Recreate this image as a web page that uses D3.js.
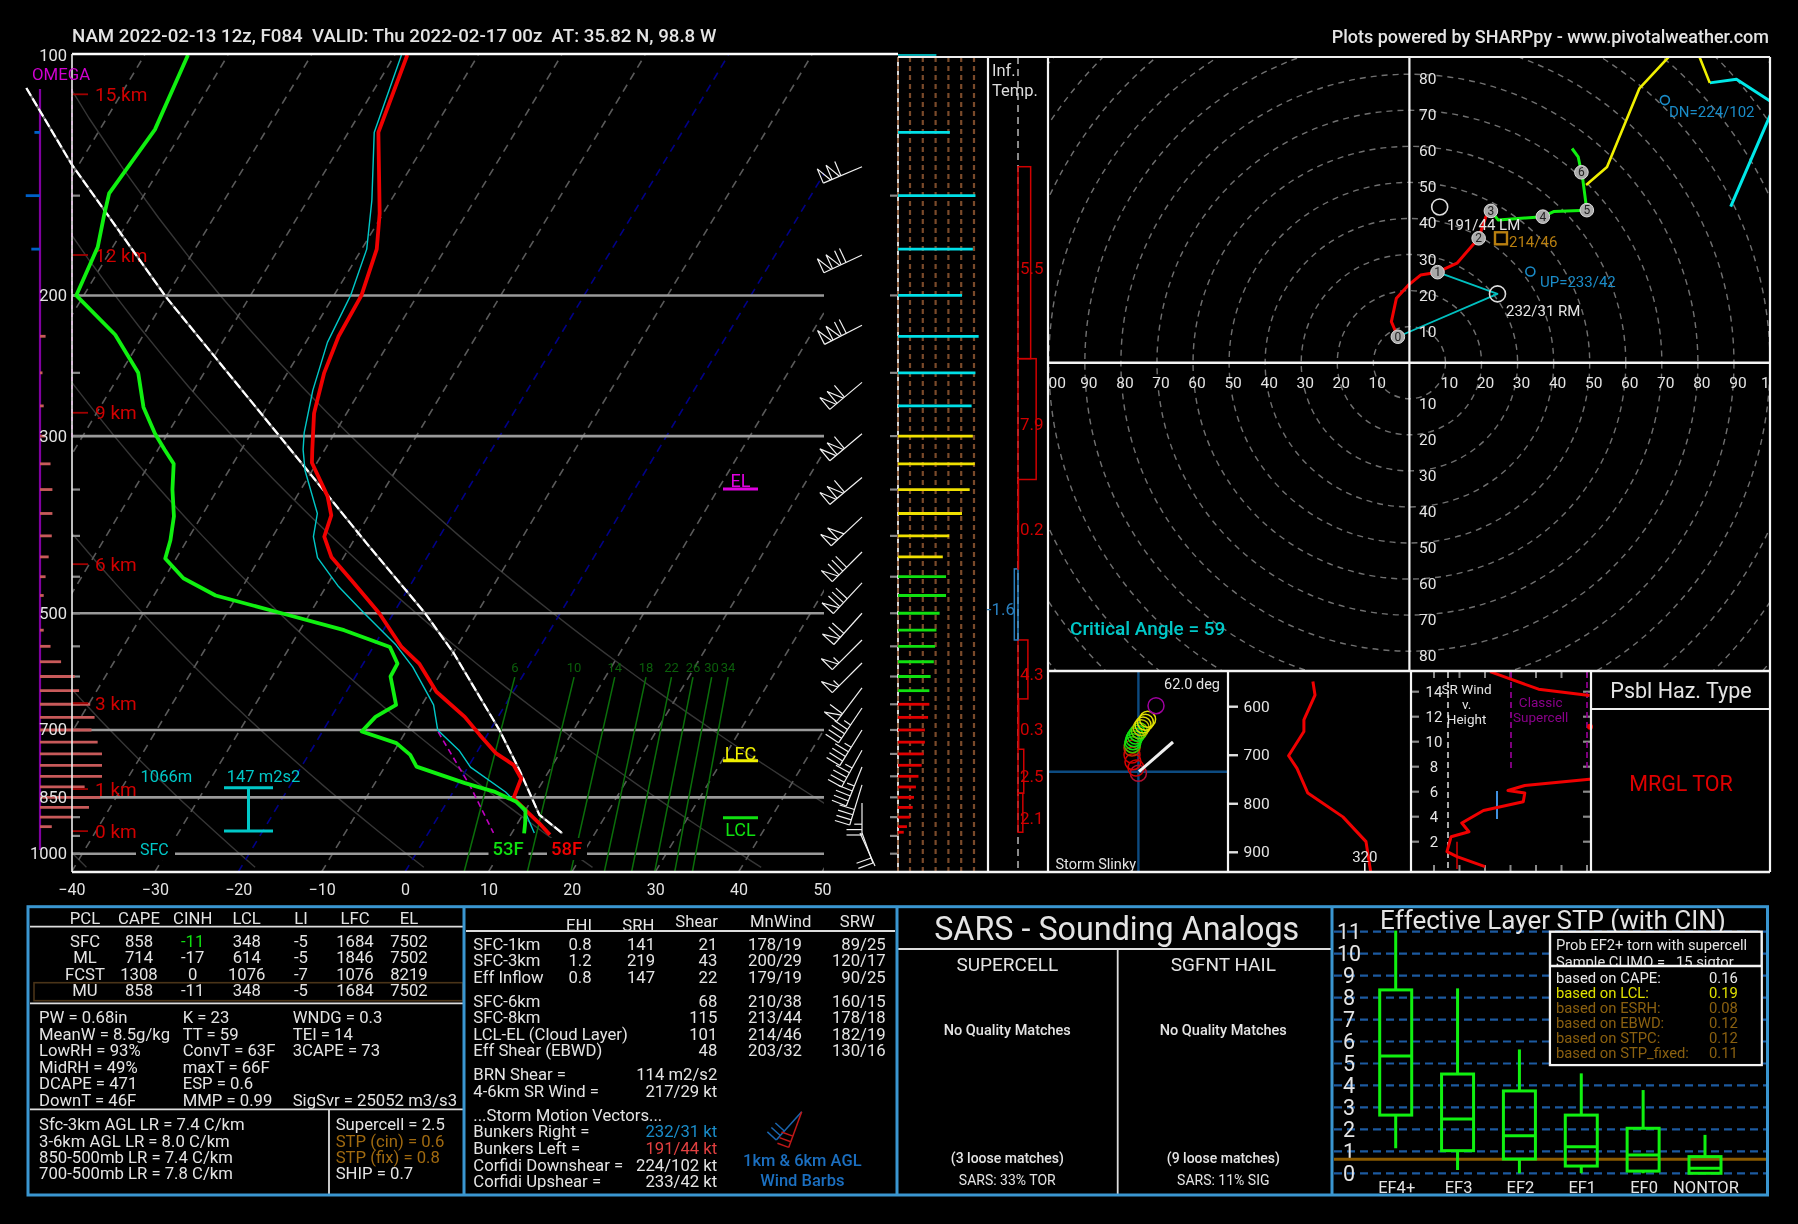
<!DOCTYPE html>
<html><head><meta charset="utf-8">
<script src="https://cdn.jsdelivr.net/npm/d3@7"></script>
<style>html,body{margin:0;background:#000;overflow:hidden}svg{display:block;filter:blur(0.45px)}text{font-family:Roboto,sans-serif}</style>
</head><body><svg id="c" width="1798" height="1224"></svg>
<script>
// ---------- Skew-T data (pressure hPa, temperature C) ----------
const tempP=[100,125,158,175,200,225,250,281,312,324,357,377,401,425,457,500,551,578,627,674,710,749,774,805,852,882,916,947];
const tempT=[-58.5,-56.4,-50.4,-48.2,-46.7,-46.5,-45.6,-43.9,-41.5,-40.6,-36.3,-34.5,-33.8,-31.5,-27.1,-21.7,-16.6,-13.3,-9.2,-4.0,-0.9,2.4,5.3,7.2,7.7,10,12.6,14.7];
const dewP=[100,124,149,159,174,200,224,250,276,298,312,325,350,378,405,427,452,475,500,525,551,578,600,651,674,703,727,752,778,816,836,861,882,916,943];
const dewT=[-84.8,-83.4,-84.3,-83.3,-81.8,-80.9,-73.4,-67.9,-64.8,-61.5,-59.2,-57.1,-55.4,-53.3,-52,-51.3,-47.7,-42.6,-33.4,-24.7,-18,-15.9,-15.8,-13.1,-14.7,-15.3,-10.3,-7.8,-6.2,0.8,4.9,8.3,10,10.9,11.5];
const wetP=[100,125,152,175,200,229,263,297,312,331,375,401,426,463,500,548,584,651,700,742,779,837,864,889,942];
const wetT=[-59.2,-56.9,-52.3,-49.4,-48,-47.4,-45.7,-43.7,-42.6,-40.9,-36.3,-35.1,-33.1,-28.5,-23.5,-17.4,-13.8,-8.6,-6.3,-2.3,0.3,6.3,8.4,10.2,12.7];
const parcelP=[110,137,201,312,409,500,561,700,786,894,943];
const parcelT=[-101.8,-90.9,-70,-44.1,-28.2,-16.2,-9.9,1.1,6.4,12,16.1];
const downP=[704,824,942];
const downT=[-6.1,1.7,7.8];
const tempTicks=[-40,-30,-20,-10,0,10,20,30,40,50];
const pressLabels=[100,200,300,500,700,850,1000];
const thickPress=[200,300,500,700,850,1000];
const thetaLines=[212,232,252,272,292,312,332];
const mixRatios=[6,10,14,18,22,26,30,34];
const heightKm=[15,12,9,6,3,1,0];
const heightPress=[112,178,280.5,434,648,830,937];
// omega
const omegaP=[125,150,175,225,250,275,300,325,350,375,400,425,450,475,525,550,575,600,625,650,675,700,725,750,775,800,825,850,875,900,925];
const omegaV=[-0.9,-2.3,-1.4,0.9,0.4,0.6,0.8,1.7,2,2,1.9,1.4,0.9,0.6,0.6,1.7,3.4,5.6,6.3,8.1,8.8,8.3,9.3,10,10,10,7.2,9.7,7.9,5.3,1.9];
// wind barbs
const barbP=[138,178,218,257,298,338,379,419,458,500,540,577,620,657,700,742,779,820,864,942];
const barbDir=[247,245,243,230,230,230,227,225,223,222,225,225,217,214,212,209,202,197,180,160];
const barbSpd=[110,120,120,110,110,110,100,80,80,70,55,55,60,45,45,45,45,40,25,20];
// wind-speed bars
const speedP=[100,125,150,175,200,225,250,275,300,325,350,375,400,425,450,475,500,525,550,575,600,625,650,675,700,725,750,775,800,825,850,875,900,925,940];
const speedKt=[60,81,121,117,100,126,121,115,117,120,112,100,80,70,75,75,65,60,58,56,51,49,49,47,42,42,40,37,32,28,25,23,19,14,9];
const speedGrid=[20,40,60,80,100,120];
// inferred temp
const infBounds=[940,840,740,640,540,440,340,240,138];
const infVals=[2.1,2.5,0.3,4.3,-1.6,0.2,7.9,5.5];
// hodograph
const hodoRings=[10,20,30,40,50,60,70,80,90,100,110,120,130];
const hodoTicks=[10,20,30,40,50,60,70,80,90,100];
const hodoRedU=[-3.2,-5,-3.6,-0.3,3.1,7.8,13.2,19.2,21.2,22.6];
const hodoRedV=[7.2,11.4,17.9,21.5,24.3,25.1,27.6,34.5,40.5,42.1];
const hodoGreenU=[22.6,24.6,37,40,49.2,48.1,47.7,46.8,45.1];
const hodoGreenV=[42.1,39.6,40.5,41.9,42.3,50.7,52.8,57.1,59.4];
const hodoYellowU=[49,54.8,63.8,72,76,80.4,83.3];
const hodoYellowV=[49.3,54.3,76.1,84.9,92,84.9,77.6];
const hodoCyanU=[83.3,90.7,100.3,108,100.3,89.1];
const hodoCyanV=[77.6,78.6,72.4,70,69.2,43.3];
const hodoMarkU=[-3.2,7.8,19.2,22.6,37,49.2,47.7];
const hodoMarkV=[7.2,25.1,34.5,42.1,40.5,42.3,52.8];
const rmDir=232,rmSpd=31,lmDir=191,lmSpd=44,dnDir=224,dnSpd=102,upDir=233,upSpd=42;
const meanU=25.4,meanV=34.5;
// slinky
const slinkyX=[0,-2.4,-5.4,-6.4,-6.4,-6,-5.4,-4.5,-2.9,-1,1,2.8,4.6,7,9.2,17.6];
const slinkyY=[-1.6,3.7,10,16.7,23.7,27,30,33,35.7,38.5,41,44,46.7,49.5,52.4,66];
const slinkyC=["#b01030","#d00000","#e00000","#d00000","#c03000","#40c000","#10e010","#10e010","#10e010","#10e010","#60d000","#c0c000","#e0e000","#e0e000","#e0e000","#a000a0"];
// theta-e
const thetaP=[548,576,627,651,701,727,778,827,878,942];
const thetaV=[302.7,303.4,299.7,299.7,294.6,297.4,301,312.7,320.4,322];
const thetaTicks=[600,700,800,900];
// SR wind
const srSpdA=[30,19,15.1,16.7,23.7,20.9,29.4,45,45.6,39,45.6,71,90];
const srHgtA=[0,0.8,1.2,2.4,2.8,3.5,4.5,5.2,5.9,6.1,6.5,7,7.2];
const srSpdB=[71,51,32];
const srHgtB=[13.7,14.2,15.6];
const srTicks=[2,4,6,8,10,12,14];
const srGrid=[10,20,30,40,50,60,70];
// STP box plot
const stpCats=["EF4+","EF3","EF2","EF1","EF0","NONTOR"];
const stpMax=[11.05,8.42,5.64,4.55,3.79,1.75];
const stpQ3=[8.35,4.52,3.75,2.65,2.05,0.76];
const stpMed=[5.34,2.47,1.71,1.21,0.83,0.23];
const stpQ1=[2.65,1.03,0.65,0.33,0.1,0];
const stpMin=[1.14,0.15,0,0,0,0];
const stpTicks=[0,1,2,3,4,5,6,7,8,9,10,11];
const stpValue=0.64;
// tables
const parcelHead=["PCL","CAPE","CINH","LCL","LI","LFC","EL"];
const parcelRows=[["SFC","858","-11","348","-5","1684","7502"],["ML","714","-17","614","-5","1846","7502"],["FCST","1308","0","1076","-7","1076","8219"],["MU","858","-11","348","-5","1684","7502"]];
const idxCol1=["PW = 0.68in","MeanW = 8.5g/kg","LowRH = 93%","MidRH = 49%","DCAPE = 471","DownT = 46F"];
const idxCol2=["K = 23","TT = 59","ConvT = 63F","maxT = 66F","ESP = 0.6","MMP = 0.99"];
const idxCol3=["WNDG = 0.3","TEI = 14","3CAPE = 73","","","SigSvr = 25052 m3/s3"];
const lapse=["Sfc-3km AGL LR = 7.4 C/km","3-6km AGL LR = 8.0 C/km","850-500mb LR = 7.4 C/km","700-500mb LR = 7.8 C/km"];
const sevText=["Supercell = 2.5","STP (cin) = 0.6","STP (fix) = 0.8","SHIP = 0.7"];
const kinRows=[["SFC-1km","0.8","141","21","178/19","89/25"],["SFC-3km","1.2","219","43","200/29","120/17"],["Eff Inflow","0.8","147","22","179/19","90/25"],["SFC-6km","","","68","210/38","160/15"],["SFC-8km","","","115","213/44","178/18"],["LCL-EL (Cloud Layer)","","","101","214/46","182/19"],["Eff Shear (EBWD)","","","48","203/32","130/16"]];
const motionRows=[["BRN Shear =","114 m2/s2"],["4-6km SR Wind =","217/29 kt"],["...Storm Motion Vectors...",""],["Bunkers Right =","232/31 kt"],["Bunkers Left =","191/44 kt"],["Corfidi Downshear =","224/102 kt"],["Corfidi Upshear =","233/42 kt"]];
const probRows=[["based on CAPE:","0.16"],["based on LCL:","0.19"],["based on ESRH:","0.08"],["based on EBWD:","0.12"],["based on STPC:","0.12"],["based on STP_fixed:","0.11"]];
const probColors=["#e8e8e8","#e0e000","#8a6010","#8a6010","#8a6010","#8a6010"];

const svg=d3.select("#c");
svg.append("rect").attr("width",1798).attr("height",1224).attr("fill","#000");
const defs=svg.append("defs");
function clip(id,x,y,w,h){defs.append("clipPath").attr("id",id).append("rect").attr("x",x).attr("y",y).attr("width",w).attr("height",h);}
clip("skew",72,54,752,818);clip("hodo",1049,57,721,614);clip("sr",1412,672,179,199);clip("thetaC",1229,672,181,199);
const W="#e4e4e4";
function txt(x,y,s,o={}){return svg.append("text").attr("x",x).attr("y",y).attr("dominant-baseline","central").attr("text-anchor",o.a||"start").attr("fill",o.f||W).attr("font-size",o.s||16).attr("font-weight",o.w||400).text(s);}
function ln(x1,y1,x2,y2,c,w,dash,cp){const l=svg.append("line").attr("x1",x1).attr("y1",y1).attr("x2",x2).attr("y2",y2).attr("stroke",c).attr("stroke-width",w);if(dash)l.attr("stroke-dasharray",dash);if(cp)l.attr("clip-path",`url(#${cp})`);return l;}

// ---------- Skew-T ----------
const yP=d3.scaleLog().domain([100,1000]).range([55,853.7]);
const xT=d3.scaleLinear().domain([-40,50]).range([71.4,822]);
const BOT=872,SK=0.6;
const sx=(t,p)=>xT(t)+SK*(BOT-yP(p));
const line=d3.line().x(d=>d[0]).y(d=>d[1]);
const pth=(pts,c,w,o={})=>{const e=svg.append("path").attr("d",line(pts)).attr("fill","none").attr("stroke",c).attr("stroke-width",w).attr("stroke-linejoin","round");if(o.dash)e.attr("stroke-dasharray",o.dash);if(o.clip)e.attr("clip-path",`url(#${o.clip})`);return e;};
const pBot=1054,pTop=100;
// dry adiabats
const presGrid=d3.range(100,1056,20);
thetaLines.forEach(th=>pth(presGrid.map(p=>[sx(th*Math.pow(p/1000,0.286)-273.15,p),yP(p)]),"#363636",1.4,{clip:"skew"}));
// isotherms
d3.range(-100,60,10).forEach(t=>{const blue=(t===0||t===-20);pth([[sx(t,pBot),yP(pBot)],[sx(t,pTop),yP(pTop)]],blue?"#000088":"#5a5a5a",1.6,{dash:"8 6",clip:"skew"});});
// isobars
thickPress.forEach(p=>ln(72,yP(p),824,yP(p),"#9a9a9a",2.6));
d3.range(150,1000,50).concat([1000]).forEach(p=>{ln(72,yP(p),80,yP(p),"#8a8a8a",2.2);ln(890,yP(p),898,yP(p),"#8a8a8a",2.2);});
// mixing ratio
const mrT=(w,p)=>{const e=w*p/(622+w),l=Math.log(e/6.112);return 243.5*l/(17.67-l);};
mixRatios.forEach(w=>{pth([[sx(mrT(w,1054),1054),yP(1054)],[sx(mrT(w,601),601),yP(601)]],"#0b6f0b",1.5);txt(sx(mrT(w,601),601),667,w,{a:"middle",f:"#0b5f0b",s:13});});
// omega
const xO=d3.scaleLinear().domain([0,10]).range([40,102]);
ln(40,89,40,850,"#8000a0",2.2);
omegaP.forEach((p,i)=>{const v=omegaV[i];ln(xO(0),yP(p),xO(v),yP(p),v<0?"#0060c8":"#c85a5a",2.8);});
ln(72,89,72,440,"#b000b0",1.5,"4 4");
// height labels
heightKm.forEach((k,i)=>{const y=yP(heightPress[i]);ln(72,y,88,y,"#a00000",1.8);txt(95,y,k+" km",{f:"#d00000",s:19});});
// profiles
pth(parcelP.map((p,i)=>[sx(parcelT[i],p),yP(p)]),"#7a7a7a",2.2);
pth(parcelP.map((p,i)=>[sx(parcelT[i],p),yP(p)]),"#fff",2.2,{dash:"9 3"});
pth(downP.map((p,i)=>[sx(downT[i],p),yP(p)]),"#c000c0",1.6,{dash:"6 4"});
pth(wetP.map((p,i)=>[sx(wetT[i],p),yP(p)]),"#00c8c8",1.4);
pth(tempP.map((p,i)=>[sx(tempT[i],p),yP(p)]),"#f00000",3.8);
pth(dewP.map((p,i)=>[sx(dewT[i],p),yP(p)]),"#10f010",3.8);
// skew frame
ln(72,54,898,54,"#fff",2.6);ln(72,54,72,872,"#eee",1.6);
pressLabels.forEach(p=>txt(67,yP(p),p,{a:"end",s:16.5}));
const xAxis=d3.axisBottom(xT).tickValues(tempTicks).tickSize(0).tickFormat(d3.format("d"));
const gx=svg.append("g").attr("transform","translate(0,881)").call(xAxis);
gx.select(".domain").remove();gx.selectAll("text").attr("fill",W).attr("font-size",16).attr("font-family","Roboto").attr("dy","0.7em");
txt(32,74,"OMEGA",{f:"#d000d0",s:16.8});
// parcel markers
const mark=(t,c,ty,ly)=>{txt(740.5,ty,t,{a:"middle",f:c,s:18});ln(723,ly,758,ly,c,3);};
mark("EL","#e000e0",480,489);mark("LFC","#f0f000",753,760.7);mark("LCL","#10e010",829,817.7);
// SRH bar
const cy="#00c8c8";
txt(140.6,776,"1066m",{f:cy,s:16.5});txt(226.8,776,"147 m2s2",{f:cy,s:16.5});
ln(224,787.7,273,787.7,cy,3);ln(224,831,273,831,cy,3);ln(248.5,787.7,248.5,831,cy,3);
const lbl=(x,w,s,c,sz,we)=>{svg.append("rect").attr("x",x-4).attr("y",838).attr("width",w+8).attr("height",22).attr("fill","#000");txt(x,849,s,{f:c,s:sz,w:we});};
lbl(140,31,"SFC",cy,16);lbl(492.5,32,"53F","#10e010",18.5,500);lbl(551,32,"58F","#f00000",18.5,500);

// ---------- Barbs ----------
function barb(x0,y0,dir,spd,len,c,sw,fl=15.5,st=5.4){
  const a=dir*Math.PI/180,dx=Math.sin(a),dy=-Math.cos(a),px=-dy,py=dx;
  const tx=x0+dx*len,ty=y0+dy*len;
  ln(x0,y0,tx,ty,c,sw);
  let rest=Math.round(spd/5)*5,d=0;
  const P=k=>[tx-dx*k,ty-dy*k];
  const perp=(q,l)=>[q[0]+px*l,q[1]+py*l];
  while(rest>=50){const A=P(d),B=P(d+8),T=perp(A,fl);
    svg.append("path").attr("d",`M${A}L${T}L${B}`).attr("fill","none").attr("stroke",c).attr("stroke-width",sw);d+=9.5;rest-=50;}
  while(rest>=10){const A=P(d),T=perp(A,fl);ln(A[0],A[1],T[0],T[1],c,sw);d+=st;rest-=10;}
  if(rest>=5){const A=P(d),T=perp(A,fl/2);ln(A[0],A[1],T[0],T[1],c,sw);}
}
barbP.forEach((p,i)=>barb(862,yP(p),barbDir[i],barbSpd[i],i>17?32:42,"#f2f2f2",1.2));
ln(860,833,875,866,"#f2f2f2",1.2);

// ---------- Wind-speed column ----------
const xK=d3.scaleLinear().domain([0,120]).range([898,974.8]);
speedGrid.forEach(s=>ln(xK(s)-.8,57,xK(s)-.8,872,"#7a4a2a",2.2,"5 4"));
ln(898,57,898,872,"#eee",1.8);ln(898,57,898,872,"#8a5a3a",1.8,"5 4");
speedP.forEach((p,i)=>{const c=p>=650?"#e00000":p>=450?"#10e010":p>=300?"#f0e000":"#00e0e8";ln(xK(0),yP(p),xK(speedKt[i]),yP(p),c,i===0?1.6:2.8);});

// ---------- Inferred temp ----------
const xI=d3.scaleLinear().domain([0,1]).range([1018,1020.3]);
ln(1018,57,1018,872,"#8a8a8a",2,"7 5");
let negLabel=null;
infVals.forEach((v,i)=>{const y1=yP(infBounds[i+1]),y2=yP(infBounds[i]),c=v<0?"#2a80c0":"#d00000";
  const x0=Math.min(xI(0),xI(v)),w=Math.abs(xI(v)-xI(0)),ym=(y1+y2)/2+5;
  svg.append("rect").attr("x",x0).attr("y",y1).attr("width",w).attr("height",y2-y1).attr("fill","none").attr("stroke",c).attr("stroke-width",1.5);
  if(v<0)negLabel=txt(1015,ym,v.toFixed(1),{a:"end",f:"#2a80c0",s:17});else txt(1020,ym,v.toFixed(1),{f:"#d00000",s:17});
});
txt(992,70,"Inf.",{s:16.5,f:"#ddd"});txt(992,90,"Temp.",{s:16.5,f:"#ddd"});

// ---------- Hodograph ----------
const hx=d3.scaleLinear().domain([0,100]).range([1409.4,1770]);
const hy=d3.scaleLinear().domain([0,100]).range([362.7,2.1]);
const hg=svg.append("g").attr("clip-path","url(#hodo)");
hodoRings.forEach(r=>hg.append("circle").attr("cx",hx(0)).attr("cy",hy(0)).attr("r",hx(r)-hx(0)).attr("fill","none").attr("stroke","#707070").attr("stroke-width",1.4).attr("stroke-dasharray","6 5"));
const hl=(u,v,c,w)=>hg.append("path").attr("d",line(u.map((a,i)=>[hx(a),hy(v[i])]))).attr("fill","none").attr("stroke",c).attr("stroke-width",w).attr("stroke-linejoin","round");
const wind=(d,s)=>{const a=d*Math.PI/180;return[-s*Math.sin(a),-s*Math.cos(a)];};
const rm=wind(rmDir,rmSpd),lm=wind(lmDir,lmSpd),dn=wind(dnDir,dnSpd),up=wind(upDir,upSpd);
hl(hodoCyanU,hodoCyanV,"#00e8e8",3);hl(hodoYellowU,hodoYellowV,"#f0f000",2.6);
hl(hodoRedU.slice(0,4),hodoRedV.slice(0,4),"#c000c0",1.2);
hl(hodoGreenU,hodoGreenV,"#10f010",3);hl(hodoRedU,hodoRedV,"#f00000",3);
hl([hodoMarkU[0],rm[0],hodoMarkU[1]],[hodoMarkV[0],rm[1],hodoMarkV[1]],"#00c0c0",1.8);
hodoMarkU.forEach((u,i)=>{hg.append("circle").attr("cx",hx(u)).attr("cy",hy(hodoMarkV[i])).attr("r",6.8).attr("fill","#aaa").attr("stroke","#ddd").attr("stroke-width",1);
  hg.append("text").attr("x",hx(u)).attr("y",hy(hodoMarkV[i])).attr("text-anchor","middle").attr("dominant-baseline","central").attr("font-size",12).attr("fill","#222").text(i);});
hg.append("circle").attr("cx",hx(rm[0])).attr("cy",hy(rm[1])).attr("r",8).attr("fill","none").attr("stroke","#ddd").attr("stroke-width",1.6);
hg.append("circle").attr("cx",hx(lm[0])).attr("cy",hy(lm[1])).attr("r",8).attr("fill","none").attr("stroke","#ddd").attr("stroke-width",1.6);
hg.append("circle").attr("cx",hx(dn[0])).attr("cy",hy(dn[1])+2).attr("r",4.5).attr("fill","none").attr("stroke","#1a8cc8").attr("stroke-width",1.6);
hg.append("circle").attr("cx",hx(up[0])).attr("cy",hy(up[1])).attr("r",4.5).attr("fill","none").attr("stroke","#1a8cc8").attr("stroke-width",1.6);
hg.append("rect").attr("x",hx(meanU)-6).attr("y",hy(meanV)-6).attr("width",12).attr("height",12).attr("fill","none").attr("stroke","#b87f10").attr("stroke-width",2.4);
ln(1409.4,57,1409.4,671,"#f4f4f4",2.2);ln(1048,362.7,1770,362.7,"#f4f4f4",2.4);
hodoTicks.forEach(t=>{
  if(t<=80)txt(1427.8,hy(t)+5,t,{a:"middle",s:15.5});
  if(t<=80)txt(1427.8,hy(-t)+5,t,{a:"middle",s:15.5});
  hg.append("text").attr("x",hx(t)+4).attr("y",382.7).attr("text-anchor","middle").attr("dominant-baseline","central").attr("font-size",15.5).attr("fill",W).text(t);
  hg.append("text").attr("x",hx(-t)+4).attr("y",382.7).attr("text-anchor","middle").attr("dominant-baseline","central").attr("font-size",15.5).attr("fill",W).text(t);
});
txt(1447,225,"191/44 LM",{s:15});txt(1509,241.7,"214/46",{f:"#b87f10",s:15});txt(1540,281.7,"UP=233/42",{f:"#1a8cc8",s:15});
txt(1669,112,"DN=224/102",{f:"#1a8cc8",s:15});txt(1506,310.7,"232/31 RM",{s:15});
txt(1070,628,"Critical Angle = 59",{f:"#00c8c8",s:19,w:500});

// ---------- Slinky ----------
const slX=d3.scaleLinear().domain([0,1]).range([1138.4,1139.4]);
const slY=d3.scaleLinear().domain([0,1]).range([771.7,770.7]);
ln(1138.4,672,1138.4,871,"#0c4a80",2.4);ln(1049,771.7,1228,771.7,"#0c4a80",2.4);
slinkyX.forEach((x,i)=>svg.append("circle").attr("cx",slX(x)).attr("cy",slY(slinkyY[i])).attr("r",8).attr("fill","none").attr("stroke",slinkyC[i]).attr("stroke-width",1.5));
ln(1139,771.7,1173,742,"#eee",3);
txt(1220,684,"62.0 deg",{a:"end",s:14.5});txt(1055.5,864,"Storm Slinky",{s:14.5});

// ---------- Theta-e ----------
const tePy=d3.scaleLinear().domain([600,900]).range([706.7,852.3]);
const teX=d3.scaleLinear().domain([320,330]).range([1364.8,1394.8]);
thetaTicks.forEach(p=>{ln(1229,tePy(p),1238,tePy(p),"#e0e0e0",2.4);txt(1243.6,tePy(p),p,{s:15.5});});
pth(thetaP.map((p,i)=>[teX(thetaV[i]),tePy(p)]),"#f00000",3,{clip:"thetaC"});
ln(1364.8,863,1364.8,871,"#eee",1.6);txt(1364.8,856.7,"320",{a:"middle",s:15});

// ---------- SR wind ----------
const srX=d3.scaleLinear().domain([10,70]).range([1434,1587]);
const srY=d3.scaleLinear().domain([0,14]).range([866.7,691.7]);
srGrid.forEach(s=>{ln(srX(s),672,srX(s),678,"#8a8a8a",2);ln(srX(s),865,srX(s),871,"#8a8a8a",2);});
srTicks.forEach(h=>{ln(1412,srY(h),1419,srY(h),"#8a8a8a",2.2);ln(1583,srY(h),1590,srY(h),"#8a8a8a",2.2);txt(1434,srY(h),h,{a:"middle",s:15});});
ln(1448,672,1448,871,"#bbb",1.8,"6 4");
ln(1511,672,1511,768,"#8a008a",1.8,"6 4");ln(1587,672,1587,768,"#8a008a",1.8,"6 4");
txt(1466.6,689,"SR Wind",{a:"middle",s:13.5});txt(1466.6,704,"v.",{a:"middle",s:13.5});txt(1466.6,719,"Height",{a:"middle",s:13.5});
txt(1540.7,702,"Classic",{a:"middle",s:13.5,f:"#8a008a"});txt(1540.7,717,"Supercell",{a:"middle",s:13.5,f:"#8a008a"});
ln(1457,841.7,1457,869,"#a00000",2);ln(1497,791,1497,819,"#4090e0",2);
pth(srSpdA.map((s,i)=>[srX(s),srY(srHgtA[i])]),"#f00000",3,{clip:"sr"});
pth(srSpdB.map((s,i)=>[srX(s),srY(srHgtB[i])]),"#f00000",3,{clip:"sr"});
svg.append("circle").attr("cx",1590).attr("cy",726.7).attr("r",3).attr("fill","#f00000");

// ---------- Haz type ----------
txt(1681,690.7,"Psbl Haz. Type",{a:"middle",s:21.5});
txt(1681,783,"MRGL TOR",{a:"middle",s:21.5,f:"#e00000"});
ln(1591,709,1770,709,"#eee",1.8);

// ---------- Frames ----------
[[988,57,988,872],[1048,57,1048,872],[1228,671,1228,872],[1411,671,1411,872],[1591,671,1591,872],[1770,57,1770,872]].forEach(a=>ln(a[0],a[1],a[2],a[3],"#f4f4f4",2.2));
ln(898,57,1770,57,"#eee",1.8);ln(1048,671,1770,671,"#f4f4f4",2.4);ln(72,872,1770,872,"#f4f4f4",2.6);
negLabel.raise();

// ---------- Titles ----------
txt(72,36,"NAM 2022-02-13 12z, F084  VALID: Thu 2022-02-17 00z  AT: 35.82 N, 98.8 W",{s:18.7,w:500}).style("white-space","pre");
txt(1769,36,"Plots powered by SHARPpy - www.pivotalweather.com",{a:"end",s:18,w:500});

// ---------- Bottom panel A ----------
const TS=16.7;
const colA=[85,139,192.7,246.7,301,355,409];
parcelHead.forEach((h,i)=>txt(colA[i],918,h,{a:"middle",s:TS}));
ln(30,926.7,463,926.7,"#ddd",1.8);
const rowA=[941.7,957.7,974,990.7];
svg.append("rect").attr("x",34).attr("y",982.7).attr("width",428.7).attr("height",18).attr("fill","none").attr("stroke","#4a3418").attr("stroke-width",1.6);
parcelRows.forEach((r,j)=>r.forEach((c,i)=>txt(colA[i],rowA[j],c,{a:"middle",s:TS,f:(j===0&&i===2)?"#10e010":W})));
ln(30,1003.3,463,1003.3,"#ddd",1.8);
const rowI=[1017.3,1034,1050.7,1067,1083.7,1100.3];
idxCol1.forEach((s,i)=>txt(39,rowI[i],s,{s:TS}));idxCol2.forEach((s,i)=>txt(182.7,rowI[i],s,{s:TS}));idxCol3.forEach((s,i)=>txt(292.7,rowI[i],s,{s:TS}));
ln(30,1109.3,463,1109.3,"#ddd",1.8);ln(329,1109.3,329,1194,"#ddd",1.8);
const rowL=[1124.3,1141,1157.3,1173.7];
lapse.forEach((s,i)=>txt(39,rowL[i],s,{s:TS}));
sevText.forEach((s,i)=>txt(335.7,rowL[i],s,{s:TS,f:(i===1||i===2)?"#a06a10":W}));

// ---------- Bottom panel B ----------
txt(579,925,"EHI",{a:"middle",s:TS});txt(638.3,925,"SRH",{a:"middle",s:TS});
txt(696.7,921.7,"Shear",{a:"middle",s:TS});txt(780.7,921.7,"MnWind",{a:"middle",s:TS});txt(857.3,921.7,"SRW",{a:"middle",s:TS});
ln(466,931,895,931,"#ddd",1.8);
const rowK=[944,960.7,977.3,1001,1017.3,1034,1050.7];
kinRows.forEach((r,j)=>{txt(473.3,rowK[j],r[0],{s:TS});txt(580,rowK[j],r[1],{a:"middle",s:TS});txt(641,rowK[j],r[2],{a:"middle",s:TS});txt(717.3,rowK[j],r[3],{a:"end",s:TS});txt(775,rowK[j],r[4],{a:"middle",s:TS});txt(885.7,rowK[j],r[5],{a:"end",s:TS});});
const rowM=[1074.7,1091,1115,1131.7,1148.3,1165,1181.7];
const motC=[W,W,W,"#1a8cc8","#e04040",W,W];
motionRows.forEach((r,j)=>{txt(473.3,rowM[j],r[0],{s:TS});txt(717.3,rowM[j],r[1],{a:"end",s:TS,f:motC[j]});});
barb(801.7,1111.7,222,30,38,"#1a66b0",1.5,12,6);barb(801.7,1111.7,200,30,38,"#c01818",1.5,12,6);
txt(802.3,1160,"1km & 6km AGL",{a:"middle",s:16.5,w:500,f:"#1b6fc0"});txt(802.3,1180,"Wind Barbs",{a:"middle",s:16.5,w:500,f:"#1b6fc0"});

// ---------- Bottom panel C ----------
txt(1116.7,929,"SARS - Sounding Analogs",{a:"middle",s:32.3});
ln(898,949,1332,949,"#ddd",1.8);ln(1117.7,949,1117.7,1194,"#ddd",1.8);
[[1007.3,"SUPERCELL","(3 loose matches)","SARS: 33% TOR"],[1223.3,"SGFNT HAIL","(9 loose matches)","SARS: 11% SIG"]].forEach(a=>{
  txt(a[0],964,a[1],{a:"middle",s:19});txt(a[0],1030.7,"No Quality Matches",{a:"middle",s:14.5,w:500});
  txt(a[0],1158,a[2],{a:"middle",s:14,w:500});txt(a[0],1180,a[3],{a:"middle",s:14});});

// ---------- Bottom panel D ----------
const stY=d3.scaleLinear().domain([0,11]).range([1173.3,931.7]);
const stX=d3.scalePoint().domain(stpCats).range([1395.7,1705]);
stpTicks.forEach(t=>{ln(1334,stY(t),1766,stY(t),"#1c5aa0",2.2,"8 5");txt(1349,stY(t),t,{a:"middle",s:21.5});});
ln(1334,stY(stpValue),1766,stY(stpValue),"#8a5a00",3);
txt(1553,920,"Effective Layer STP (with CIN)",{a:"middle",s:26});
const G="#10f010";
stpCats.forEach((c,i)=>{const x=stX(c);
  ln(x,stY(stpMax[i]),x,stY(stpQ3[i]),G,3);ln(x,stY(stpQ1[i]),x,stY(stpMin[i]),G,3);
  svg.append("rect").attr("x",x-16).attr("y",stY(stpQ3[i])).attr("width",32).attr("height",stY(stpQ1[i])-stY(stpQ3[i])).attr("fill","none").attr("stroke",G).attr("stroke-width",3);
  ln(x-16,stY(stpMed[i]),x+16,stY(stpMed[i]),G,3);
  txt(x+1,1187,c,{a:"middle",s:16.5});});
svg.append("rect").attr("x",1550).attr("y",931.7).attr("width",211.7).attr("height",133.3).attr("fill","#000").attr("stroke","#f4f4f4").attr("stroke-width",2.4);
txt(1556,945,"Prob EF2+ torn with supercell",{s:14.7});
txt(1556,961.7,"Sample CLIMO =  .15 sigtor",{s:14.7}).style("white-space","pre");
svg.append("rect").attr("x",1551.2).attr("y",966).attr("width",209.3).attr("height",97.8).attr("fill","#000");
ln(1550,966,1761.7,966,"#f4f4f4",2.4);
const rowP=[978.3,993.3,1008.3,1023.3,1038.3,1053.3];
probRows.forEach((r,i)=>{txt(1556,rowP[i],r[0],{s:14.8,f:probColors[i]});txt(1709,rowP[i],r[1],{s:14.8,f:probColors[i]});});

// ---------- Blue frame ----------
const B="#3a96d0";
svg.append("rect").attr("x",28).attr("y",906.7).attr("width",1739.5).attr("height",288.3).attr("fill","none").attr("stroke",B).attr("stroke-width",3);
[464,897,1332].forEach(x=>ln(x,906.7,x,1195,B,3));
</script></body></html>
